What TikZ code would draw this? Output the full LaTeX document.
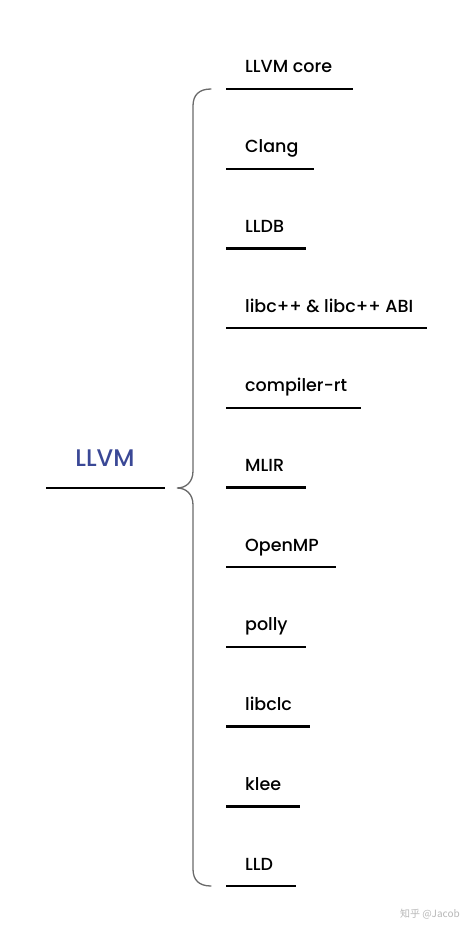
\documentclass[tikz,border=0pt]{standalone}
\usepackage{fontspec}
\setmainfont{Poppins Medium}
\newfontfamily\cjkfont{Noto Sans CJK SC}
\definecolor{titleblue}{HTML}{3A4896}
\definecolor{bracegray}{HTML}{6A6A6A}
\definecolor{markgray}{HTML}{B8B8B8}
\begin{document}
\begin{tikzpicture}[x=1pt,y=-1pt,
  itemlabel/.style={anchor=base west,inner sep=0pt,font=\fontsize{17.5}{20}\selectfont,text=black},
  uline/.style={line width=2.4pt,black},
  bracestyle/.style={line width=1.3pt,bracegray,line cap=round}]
\useasboundingbox (0,0) rectangle (474,934);
\fill[white] (0,0) rectangle (474,934);
% title
\node[anchor=base,inner sep=0pt,font=\fontsize{24}{28}\selectfont,text=titleblue] (llvm) at (105,466) {LLVM};
\coordinate (t1) at (46,488);
\coordinate (t2) at (165,488);
\draw[uline] (t1) -- (t2);
% items
\foreach \lab/\len [count=\i from 0] in {LLVM core/353,Clang/314,LLDB/306,{libc++ \& libc++ ABI}/427,compiler-rt/361,MLIR/306,OpenMP/336,polly/306,libclc/310,klee/300,LLD/296}{
  \pgfmathsetmacro{\yy}{89+79.7*\i}
  \node[itemlabel] (item\i) at (245,\yy-16) {\lab};
  \coordinate (a\i) at (226,\yy);
  \coordinate (b\i) at (\len,\yy);
  \draw[uline] (a\i) -- (b\i);
}
% brace
\draw[bracestyle] (211,89) .. controls (199,89) and (193,95) .. (193,106)
  -- (193,471) .. controls (193,482) and (186,488) .. (177,488)
  .. controls (186,488) and (193,494) .. (193,505)
  -- (193,869) .. controls (193,880) and (199,886) .. (211,886);
% watermark
\node[anchor=base east,inner sep=0pt,font=\fontsize{10}{12}\selectfont,text=markgray] (wm) at (460,917) {\cjkfont 知乎 @Jacob};
\end{tikzpicture}
\end{document}
